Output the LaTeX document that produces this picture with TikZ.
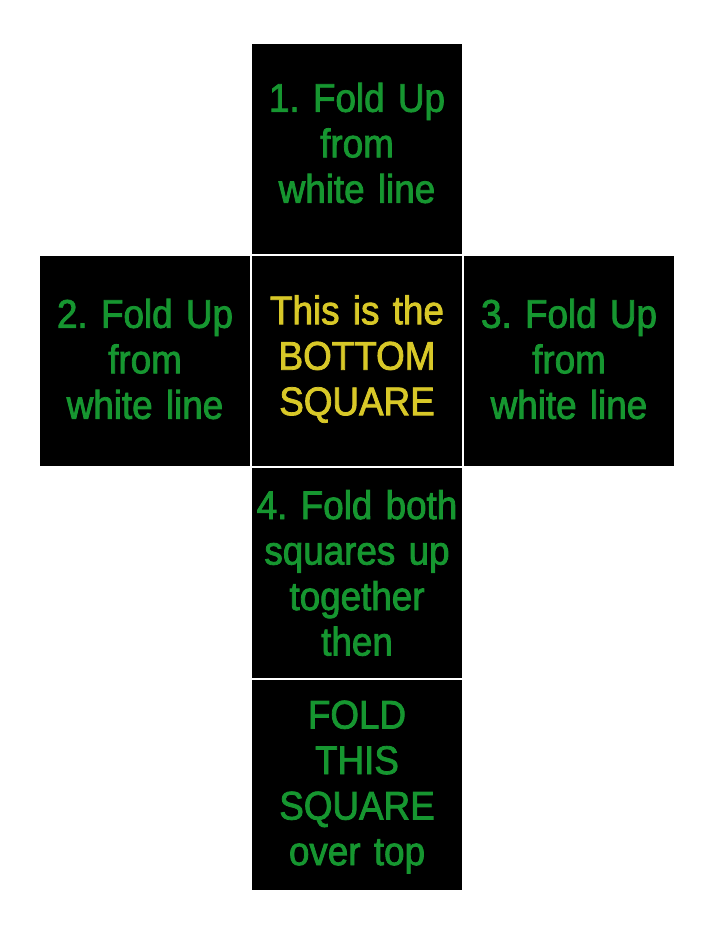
\documentclass[tikz,border=0pt]{standalone}
\usepackage{fontspec}
\setmainfont{Liberation Sans}[FakeStretch=0.92,FakeBold=2]
\definecolor{foldgreen}{RGB}{22,150,48}
\definecolor{bottomyellow}{RGB}{216,200,40}
\begin{document}
\frenchspacing
\begin{tikzpicture}[x=1pt,y=1pt,
  face/.style={fill=black,draw=none,minimum width=210pt,minimum height=210pt,inner sep=0pt},
  facetext/.style={inner sep=0pt,text width=210pt,align=center,
    font=\frenchspacing\fontsize{40}{45.5}\selectfont,text=foldgreen}]
\fill[white] (0,0) rectangle (723,926);
\useasboundingbox (0,0) rectangle (723,926);
\node[face] (top) at (357,777) {};
\node[face] (left) at (145,565) {};
\node[face] (center) at (357,565) {};
\node[face] (right) at (569,565) {};
\node[face] (fourth) at (357,353) {};
\node[face] (bottom) at (357,141) {};
\node[facetext] (toptext) at ([yshift=6pt]top.center) {1. Fold Up\\from\\white line};
\node[facetext] (lefttext) at ([yshift=2pt]left.center) {2. Fold Up\\from\\white line};
\node[facetext,text=bottomyellow] (centertext) at ([yshift=2pt]center.center) {This is the\\BOTTOM\\SQUARE};
\node[facetext] (righttext) at ([yshift=2pt]right.center) {3. Fold Up\\from\\white line};
\node[facetext] (fourthtext) at (fourth.center) {4. Fold both\\squares up\\together\\then};
\node[facetext] (bottomtext) at ([yshift=-2pt]bottom.center) {FOLD\\THIS\\SQUARE\\over top};
\end{tikzpicture}
\end{document}
